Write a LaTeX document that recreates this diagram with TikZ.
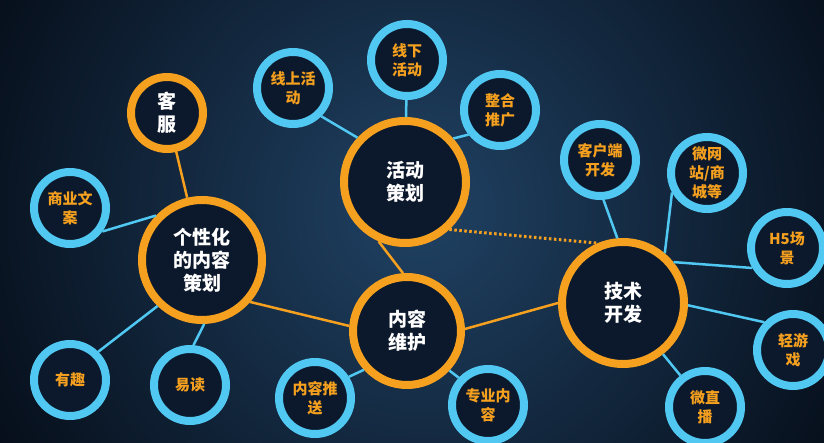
\documentclass[tikz,border=0pt]{standalone}
\usepackage{fontspec}
\newfontfamily\cjk{Noto Sans CJK SC}
\usepackage{xcolor}
\usepackage{tikz}

\definecolor{ring}{RGB}{245,160,30}
\definecolor{sky}{RGB}{80,200,242}
\definecolor{inside}{RGB}{12,25,44}
\definecolor{bgmid}{RGB}{32,66,100}
\definecolor{bgedge}{RGB}{4,10,20}

\begin{document}
\begin{tikzpicture}[x=1pt, y=-1pt,
    big/.style={circle, draw=ring, line width=8pt, fill=inside, inner sep=0pt,
        align=center, text=white, font=\cjk\bfseries\fontsize{19}{23}\selectfont},
    small/.style={circle, draw=sky, line width=8pt, fill=inside, inner sep=0pt,
        minimum size=72pt, align=center, text=ring,
        font=\cjk\bfseries\fontsize{15}{19}\selectfont},
    oline/.style={draw=ring, line width=2.5pt},
    bline/.style={draw=sky, line width=2.5pt}]

    \begin{scope}
        \clip (0,0) rectangle (824,443);
        \shade[inner color=bgmid, outer color=bgedge] (420,210) circle (520);
    \end{scope}
    \useasboundingbox (0,0) rectangle (824,443);

    % main topics
    \node (kf) at (167,113) [big, minimum size=72pt] {客\\服};
    \node (gxh) at (202,260) [big, minimum size=120pt] {个性化\\的内容\\策划};
    \node (hd) at (405,182) [big, minimum size=122pt] {活动\\策划};
    \node (nr) at (407,331) [big, minimum size=108pt] {内容\\维护};
    \node (js) at (623,303) [big, minimum size=122pt] {技术\\开发};

    % sub topics
    \foreach \n/\x/\y/\t in {syw/70/208/{商业文\\案}, yq/70/380/{有趣}, yd/190/385/{易读},
            xs/293/88/{线上活\\动}, xx/407/60/{线下\\活动}, zh/500/110/{整合\\推广},
            ts/315/398/{内容推\\送}, zy/488/405/{专业内\\容},
            khd/600/160/{客户端\\开发}, wz/707/173/{微网\\站/商\\城等},
            h5/787/248/{H5场\\景}, qyx/793/350/{轻游\\戏}, zb/705/407/{微直\\播}} {
        \node (\n) at (\x,\y) [small] {\t};
    }

    \draw[oline] (kf) -- (gxh);
    \draw[oline] (gxh.-41) -- (nr.175);
    \draw[oline] (hd.-114) -- (nr.94);
    \draw[oline] (nr.2) -- (js.180);
    \draw[ring, line width=3pt, dash pattern=on 2.5pt off 2.5pt] (hd.-47) -- (js.113);

    \draw[bline] (syw.-36) -- (gxh.136);
    \draw[bline] (yq.45) -- (gxh.226);
    \draw[bline] (yd.85) -- (gxh.-88);
    \draw[bline] (xs.-45) -- (hd.137);
    \draw[bline] (xx) -- (hd);
    \draw[bline] (zh.218) -- (hd.42);
    \draw[bline] (ts.32) -- (nr.222);
    \draw[bline] (zy.137) -- (nr.-43);
    \draw[bline] (khd.-85) -- (js.95);
    \draw[bline] (wz.209) -- (js.50);
    \draw[bline] (h5.210) -- (js.39);
    \draw[bline] (qyx.136) -- (js.-2);
    \draw[bline] (zb.128) -- (js.-52);
\end{tikzpicture}
\end{document}
